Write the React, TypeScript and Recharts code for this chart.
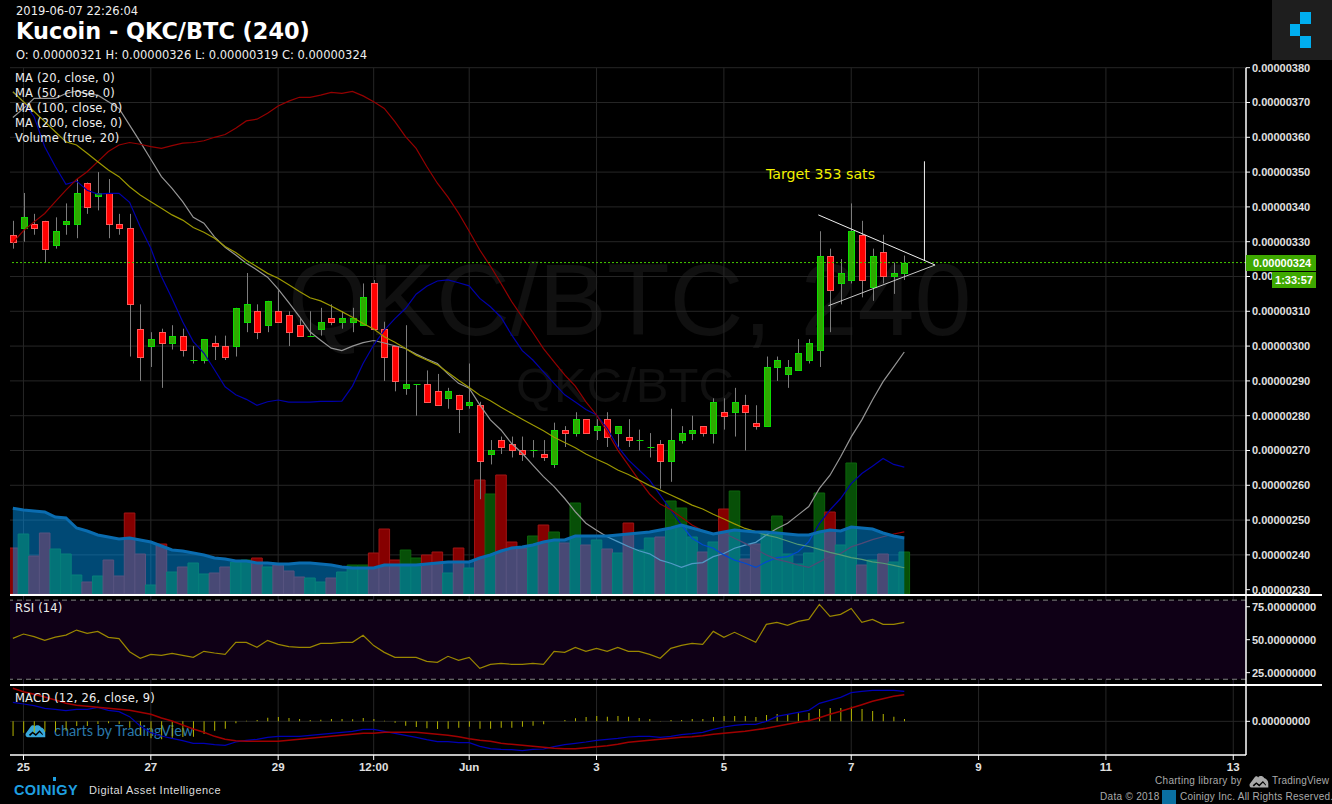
import React from "react";
import {
  ComposedChart,
  Bar,
  Line,
  Area,
  Cell,
  XAxis,
  YAxis,
  CartesianGrid,
  ReferenceLine,
  ReferenceArea,
} from "recharts";

// 4h candles, prices in satoshi
const opens = [332,334,335,336,329,335,335,347,343,344,335,334,305,300,304,301,303,296,296,301,300,300,307,310,306,310,309,306,303,305,308,307,307,306,318,305,300,288,289,289,287,285,286,283,283,269,273,272,270,270,269,266,276,275,279,276,279,275,274,273,271,272,267,273,275,277,275,281,281,283,278,277,294,292,293,296,299,326,318,319,332,317,327,320,321];
const highs = [336,344,338,336,337,341,348,347,350,348,338,338,312,304,305,306,305,300,302,303,303,311,321,312,313,316,310,308,310,311,312,310,311,318,319,307,300,306,289,293,292,288,286,295,284,273,274,274,274,273,273,278,277,281,279,279,281,277,279,276,275,273,282,277,280,277,285,285,288,286,283,297,297,296,302,302,333,328,325,341,336,328,332,324,326];
const lows = [328,330,332,324,328,332,331,338,339,331,332,297,290,294,288,299,297,295,295,296,296,297,304,302,304,307,300,303,303,303,306,305,304,306,305,290,287,286,280,284,283,282,275,282,256,266,269,268,267,268,267,265,271,274,275,273,271,271,271,270,268,259,261,272,273,274,272,276,274,270,276,277,290,288,293,295,294,304,312,318,314,313,318,315,319];
const closes = [330,337,334,328,333,336,344,340,344,335,334,312,297,302,301,303,299,296,302,300,297,311,312,304,313,307,304,303,303,307,307,308,308,314,305,297,290,289,289,284,283,287,282,284,267,270,271,270,269,270,268,276,275,279,275,277,274,277,273,273,271,267,273,275,276,275,284,280,284,281,277,294,296,294,298,301,326,316,321,333,319,326,320,321,324];

const ma20 = [365.7,368.3,371.2,371.2,371.2,372.6,373.3,372.5,372.1,370.2,368.3,363.5,358.7,353.7,348.7,345.3,341.5,337,335.3,331.4,328.4,326.2,323.8,321.9,319.8,316.4,312.5,308.5,304.1,301.7,299.4,298.7,300,301,301.6,300.9,300.1,299.3,297.7,296.3,295,292,289.3,287.9,283.1,278.8,275.9,272,269.2,265.8,262.5,259.6,256.2,252.4,249.1,247.1,245.2,243.8,242.4,241.2,240.3,238.5,237.6,236.4,237.5,237.8,239.5,240.4,241.9,242.8,243.6,245.7,247.6,249.1,251.5,253.9,259.1,262.9,268.2,273.9,278.8,284.5,289.8,294,298.3];
const ma50 = [373.1,370.2,365.9,357.3,351.6,346.5,347.4,344.8,343.7,343.9,343.9,341.3,334.3,328.1,320,313.7,307,301.3,298,293.2,288.3,286,284.7,283,284,284.5,283.9,283.9,283.9,284.1,284.1,284.2,288.5,295,300.3,304.6,307.9,310.8,314.9,317.2,318.7,319,318.2,317.3,313.7,311.3,308.3,303.2,298.7,296,292.6,289.3,286,283.9,281.8,280.2,276.4,271.1,267.3,264.4,261.5,257.2,252.9,248.6,244.8,242.9,241.9,240,238.5,237.6,236.4,238,239.2,239.5,240.9,243.8,249,252.9,256.2,260.5,263.4,265.5,267.7,266,265.2];
const ma100 = [329.7,333.2,335.7,338.1,341.5,344.8,347.9,350.1,353,355.9,357.8,358.5,358,357.3,356.8,357.6,358.3,358.5,359,360,360.8,362.6,364.7,365.2,366.9,369,370.4,371.5,371.5,372.1,372.9,372.6,373.2,371.9,370.2,368.3,364.5,360.2,356.8,351.6,346.8,342.8,338.2,333,327.6,323,318,312.8,308.3,303.9,299.3,295.5,291.7,288.5,284,280.2,275.4,270.1,265.8,261.5,257.5,254.6,253,250.8,248.6,247,245.9,246.2,244.8,243.3,241.6,240,238.7,238,237.1,236.4,238,239.5,240.4,242.3,243.3,244.4,245.2,246,246.6];
const ma200 = [373.1,370.2,367.4,364.5,361.6,358.7,357.8,355.4,353,350.6,348.7,345.8,343.4,341.5,339.6,337.7,336.2,334.1,332.7,331,328.6,326.9,324.7,322.8,320.9,319.5,317.6,315.7,313.9,313,311.5,309.9,308.3,306.5,304.9,302.7,301.1,299.3,297.4,296,294.6,292.4,290.2,288.1,285.9,284.3,282.4,280.7,279,277.3,275.7,273.8,272.3,270.8,269,267.5,266.1,264.4,263.1,261.5,259.9,258.6,257.2,255.8,254.3,253.2,251.7,250.3,248.9,247.6,246.7,245.7,245,244,243,242.4,241.6,240.7,240,239.2,238.7,238,237.6,237,236.3];

const volume = [46,60,38,61,45,40,19,12,18,34,18,81,40,9,50,22,27,31,20,21,27,32,34,36,27,29,23,17,16,12,16,22,29,29,41,65,34,44,36,39,42,21,46,26,114,100,119,52,46,58,69,62,51,91,49,54,45,41,71,44,56,57,93,86,57,42,52,85,103,35,50,62,78,40,30,41,101,82,49,131,29,34,40,32,42];
const volumeMa = [85.7,84,83,82,77,76,66,63,59,57,55,56,54,52,48,44,43,41,39,36,35,33,33,31,31,30,30,31,31,30,29,27,26,26,26,29,29,29,29,30,31,32,32,32,36,39,43,46,47,49,52,54,54,58,58,58,58,59,60,61,62,64,66,69,66,63,60,62,64,63,62,62,61,60,59,59,62,64,63,67,66,65,61,58,56];

const rsi = [51,54.3,52.3,49.5,52,53.5,57.3,54.8,56.3,51.8,50.8,40.9,35.9,38.9,38.1,39.6,38.1,36.6,41.2,39.9,38.9,48,48,44.2,49.5,46.5,44.7,44.2,44.2,47.2,47.2,48,48,53.3,45.5,40.4,36.6,36.6,36.6,33.6,32.8,37.4,34.3,36.6,28.3,31.3,32.1,31.3,31.3,32.1,31.3,41.2,40.4,44.2,41.2,43.4,41.2,44.2,41.2,41.2,38.9,35.9,43.4,45.7,47.2,46.5,56.3,51.8,55.6,51.8,48,61.6,63.1,60.9,63.9,65.4,76.8,67.7,69.2,73.7,63.1,65.4,61.6,61.6,63.1];

const macd = [57,52,47,39,36,32,36,36,42,33,29,14,-14,-34,-44,-51,-58,-66,-66,-70,-72,-62,-57,-54,-48,-45,-45,-45,-42,-39,-36,-33,-30,-24,-24,-30,-36,-42,-48,-55,-61,-61,-64,-64,-75,-82,-84,-85,-88,-84,-83,-76,-70,-66,-62,-57,-54,-51,-47,-45,-45,-48,-45,-40,-37,-33,-24,-17,-12,-9,-9,0,15,21,27,33,54,63,72,86,90,93,93,93,90];
const signal = [99,89,81,73,64,54,48,45,42,39,36,33,27,21,10,1,-11,-23,-33,-45,-54,-58,-60,-60,-60,-60,-57,-54,-51,-48,-45,-42,-39,-36,-36,-33,-33,-33,-33,-36,-39,-42,-46,-52,-57,-60,-66,-69,-72,-75,-78,-81,-82,-82,-79,-76,-73,-69,-63,-60,-57,-54,-51,-48,-46,-43,-39,-36,-33,-30,-25,-21,-15,-9,-3,2,11,21,30,40,50,60,68,75,80];
const hist = [-44,-34,-34,-31,-31,-28,-14,-14,-8,-6,-8,-19,-41,-51,-54,-52,-47,-46,-38,-28,-22,-6,2,4,11,13,10,7,4,5,7,7,6,10,7,2,-4,-13,-17,-21,-23,-22,-19,-16,-22,-22,-19,-19,-16,-13,-9,0,4,9,13,16,14,16,14,10,7,1,4,4,7,7,13,16,16,16,13,19,22,22,24,25,37,40,40,44,37,31,22,14,7];

const dateTicks = [1,13,25,34,43,55,67,79,91,103,115];
const dateLabels = ["25","27","29","12:00","Jun","3","5","7","9","11","13"];
const priceTicks = [230,240,250,260,270,280,290,300,310,320,330,340,350,360,370,380];
const rsiTicks = [25,50,75];
const macdTicks = [0];
const legendLabels = ["MA (20, close, 0)","MA (50, close, 0)","MA (100, close, 0)","MA (200, close, 0)","Volume (true, 20)"];

const rows = opens.map((o, i) => ({
  i,
  open: o,
  high: highs[i],
  low: lows[i],
  close: closes[i],
  ma20: ma20[i],
  ma50: ma50[i],
  ma100: ma100[i],
  ma200: ma200[i],
  volume: volume[i],
  volumeMa: volumeMa[i],
  rsi: rsi[i],
  macd: macd[i],
  signal: signal[i],
  hist: hist[i],
}));

const X_DOMAIN: [number, number] = [-0.27, 116.2];
const PRICE_DOMAIN: [number, number] = [228.76, 380];
const GRID = "#262626";
const SANS = "'DejaVu Sans', Verdana, sans-serif";
const ARIAL = "'Liberation Sans', Arial, sans-serif";
const tickStyle = { fill: "#e0e0e0", fontSize: 11, fontFamily: ARIAL, fontWeight: 700 };

const fmtPrice = (v: number) => (v / 1e8).toFixed(8);
const fmtOsc = (v: number) => v.toFixed(8);

function Candle(props: any) {
  const { x, y, width, height, payload } = props;
  const { open, close, high, low } = payload;
  const up = close >= open;
  const at = (p: number) => y + ((high - p) / (high - low)) * height;
  const cx = Math.round(x + width / 2) + 0.5;
  const top = Math.round(at(Math.max(open, close))) + 0.5;
  const bottom = Math.round(at(Math.min(open, close))) + 0.5;
  const edge = up ? "#0cdc00" : "#ff5a5a";
  return (
    <g>
      <line x1={cx} x2={cx} y1={y} y2={y + height} stroke="#7c7c7c" />
      {open === close ? (
        <line x1={cx - 3} x2={cx + 4} y1={top} y2={top} stroke={edge} />
      ) : (
        <rect x={cx - 3} y={top} width={6} height={bottom - top} fill={up ? "#2ea800" : "#ff0000"} stroke={edge} />
      )}
    </g>
  );
}

function Text({ x, y, size = 11, color = "#eee", weight = 400, font = SANS, spacing = 0, children }: any) {
  return (
    <div
      style={{
        position: "absolute",
        left: x,
        top: y,
        fontSize: size,
        lineHeight: 1,
        color,
        fontWeight: weight,
        fontFamily: font,
        letterSpacing: spacing,
        whiteSpace: "nowrap",
      }}
    >
      {children}
    </div>
  );
}

const Rule = ({ top, right }: { top: number; right: number }) => (
  <div style={{ position: "absolute", left: 10, top, width: right - 10, height: 1.5, background: "#fff" }} />
);

const Cloud = ({ x, y, w, color }: any) => (
  <svg style={{ position: "absolute", left: x, top: y }} width={w} height={w * 0.66} viewBox="0 0 33 22">
    <path
      fill={color}
      d="M1 15 L9 4 C11 1 14 2 15 4 C17 1 23 1 25 5 C29 6 32 10 32 14 L32 21 L4 21 C1 21 0 17 1 15 Z M6 17 L12 12 L17 16 L23 10 L28 16 L28 18 L23 13 L17 19 L12 15 L8 19 Z"
      fillRule="evenodd"
    />
  </svg>
);

const layer = { position: "absolute", left: 10, top: 60 } as const;

export default function App() {
  return (
    <div style={{ position: "fixed", left: 0, top: 0, width: 1332, height: 804, background: "#000", overflow: "hidden" }}>
      {/* faint symbol watermark behind the price pane */}
      <Text x={288} y={249} size={102.5} color="#101010" font={ARIAL}>QKC/BTC, 240</Text>
      <Text x={516} y={361} size={49} color="#101010" font={ARIAL}>QKC/BTC</Text>

      {/* grid and volume bars */}
      <div style={layer}>
        <ComposedChart width={1322} height={534} data={rows} margin={{ top: 7.7, right: 86, bottom: 0, left: 0 }}>
          <XAxis dataKey="i" type="number" domain={X_DOMAIN} allowDataOverflow hide />
          <YAxis yAxisId="v" domain={[0, 526.3]} hide />
          <YAxis yAxisId="g" domain={PRICE_DOMAIN} ticks={priceTicks} allowDataOverflow hide />
          <CartesianGrid stroke={GRID} yAxisId="g" horizontalValues={priceTicks} verticalValues={dateTicks} />
          <Bar yAxisId="v" dataKey="volume" barSize={10.6} isAnimationActive={false}>
            {rows.map((d) => (
              <Cell
                key={d.i}
                fill={d.close >= d.open ? "#074f07" : "#860000"}
                stroke={d.close >= d.open ? "#0c640c" : "#a01414"}
              />
            ))}
          </Bar>
          {/* keeps axis g populated so the grid gets its rows */}
          <Line yAxisId="g" dataKey="close" stroke="none" dot={false} isAnimationActive={false} />
        </ComposedChart>
      </div>

      {/* price pane: candles, moving averages, drawings */}
      <div style={layer}>
        <ComposedChart width={1322} height={534} data={rows} margin={{ top: 7.7, right: 0, bottom: 0, left: 0 }}>
          <XAxis dataKey="i" type="number" domain={X_DOMAIN} allowDataOverflow hide />
          <YAxis
            orientation="right"
            width={86}
            domain={PRICE_DOMAIN}
            allowDataOverflow
            ticks={priceTicks}
            interval={0}
            tickFormatter={fmtPrice}
            tick={tickStyle}
            tickSize={4}
            tickMargin={2}
            axisLine={{ stroke: "#fff", strokeWidth: 1.5 }}
            tickLine={{ stroke: "#fff" }}
          />

          <Bar dataKey={(d: any) => [d.low, d.high]} barSize={7} shape={Candle} isAnimationActive={false} />

          <Line dataKey="ma20" type="linear" stroke="#959595" strokeWidth={1.2} dot={false} isAnimationActive={false} />
          <Line dataKey="ma50" type="linear" stroke="#0000aa" strokeWidth={1.2} dot={false} isAnimationActive={false} />
          <Line dataKey="ma100" type="linear" stroke="#940000" strokeWidth={1.2} dot={false} isAnimationActive={false} />
          <Line dataKey="ma200" type="linear" stroke="#9c9800" strokeWidth={1.2} dot={false} isAnimationActive={false} />

          <ReferenceLine y={324} stroke="#45c800" strokeDasharray="2 2" />
          {/* drawn triangle and target */}
          <ReferenceLine stroke="#f0f0f0" segment={[{ x: 75.9, y: 337.7 }, { x: 86.9, y: 323.3 }]} />
          <ReferenceLine stroke="#c8c8c8" segment={[{ x: 76.85, y: 311.6 }, { x: 86.9, y: 323.3 }]} />
          <ReferenceLine stroke="#f0f0f0" segment={[{ x: 85.9, y: 353.1 }, { x: 85.9, y: 324.5 }]} />
        </ComposedChart>
      </div>

      {/* volume MA area goes on top, it tints the bars and the MA lines below it */}
      <div style={layer}>
        <ComposedChart width={1322} height={534} data={rows} margin={{ top: 7.7, right: 86, bottom: 0, left: 0 }}>
          <XAxis dataKey="i" type="number" domain={X_DOMAIN} allowDataOverflow hide />
          <YAxis domain={[0, 526.3]} hide />
          <Area
            dataKey="volumeMa"
            type="linear"
            fill="#00a0ff"
            fillOpacity={0.46}
            stroke="#0a6cb0"
            strokeWidth={3}
            dot={false}
            isAnimationActive={false}
          />
        </ComposedChart>
      </div>

      {/* RSI pane */}
      <div style={{ position: "absolute", left: 10, top: 595 }}>
        <ComposedChart width={1322} height={89} data={rows} margin={{ top: 0, right: 0, bottom: 0, left: 0 }}>
          <XAxis dataKey="i" type="number" domain={X_DOMAIN} allowDataOverflow hide />
          <YAxis
            orientation="right"
            width={86}
            domain={[16.4, 83.9]}
            ticks={rsiTicks}
            interval={0}
            tickFormatter={fmtOsc}
            tick={tickStyle}
            tickSize={4}
            tickMargin={2}
            axisLine={{ stroke: "#fff", strokeWidth: 1.5 }}
            tickLine={{ stroke: "#fff" }}
          />
          <ReferenceArea y1={20} y2={80} fill="#0f0016" fillOpacity={1} stroke="none" />
          <CartesianGrid stroke="#272030" horizontalValues={rsiTicks} verticalValues={dateTicks} />
          <ReferenceLine y={80} stroke="#808080" strokeDasharray="5 4" />
          <ReferenceLine y={20} stroke="#808080" strokeDasharray="5 4" />
          <Line dataKey="rsi" type="linear" stroke="#9a8600" strokeWidth={1.2} dot={false} isAnimationActive={false} />
        </ComposedChart>
      </div>

      {/* TradingView mark sits under the MACD pane */}
      <Cloud x={25} y={724} w={21} color="#38a8dc" />
      <Text x={54} y={724} size={14.5} color="#2a78aa" font="Lato, 'Open Sans', sans-serif">charts by TradingView</Text>

      {/* MACD pane */}
      <div style={{ position: "absolute", left: 10, top: 685 }}>
        <ComposedChart width={1322} height={92} data={rows} margin={{ top: 0, right: 0, bottom: 0, left: 0 }}>
          <XAxis
            dataKey="i"
            type="number"
            domain={X_DOMAIN}
            allowDataOverflow
            ticks={dateTicks}
            interval={0}
            height={22}
            tickFormatter={(v: number) => dateLabels[dateTicks.indexOf(v)]}
            tick={{ ...tickStyle, fontSize: 11.5 }}
            tickSize={5}
            tickMargin={3}
            axisLine={{ stroke: "#fff", strokeWidth: 1.5 }}
            tickLine={{ stroke: "#fff" }}
          />
          <YAxis
            orientation="right"
            width={86}
            domain={[-101, 109]}
            ticks={macdTicks}
            interval={0}
            tickFormatter={fmtOsc}
            tick={tickStyle}
            tickSize={4}
            tickMargin={2}
            axisLine={{ stroke: "#fff", strokeWidth: 1.5 }}
            tickLine={{ stroke: "#fff" }}
          />
          <CartesianGrid stroke={GRID} horizontalValues={macdTicks} verticalValues={dateTicks} />
          <Bar dataKey="hist" barSize={1} fill="#b4b400" isAnimationActive={false} />
          <Line dataKey="macd" type="linear" stroke="#0000b4" strokeWidth={1.2} dot={false} isAnimationActive={false} />
          <Line dataKey="signal" type="linear" stroke="#a00000" strokeWidth={1.5} dot={false} isAnimationActive={false} />
        </ComposedChart>
      </div>

      <Rule top={594} right={1322} />
      <Rule top={684} right={1322} />

      {/* header and legend */}
      <Text x={16} y={5.5} size={11.5}>2019-06-07 22:26:04</Text>
      <Text x={16} y={20} size={22.4} weight={700} color="#fff">Kucoin - QKC/BTC (240)</Text>
      <Text x={16} y={50} size={11.5}>O: 0.00000321 H: 0.00000326 L: 0.00000319 C: 0.00000324</Text>
      {legendLabels.map((t, i) => (
        <Text key={t} x={15} y={72.5 + i * 15} size={11.5} spacing={0.2}>{t}</Text>
      ))}
      <Text x={15} y={603} size={11.5} spacing={0.2}>RSI (14)</Text>
      <Text x={15} y={693} size={11.5} spacing={0.2}>MACD (12, 26, close, 9)</Text>
      <Text x={766} y={167} size={14.2} color="#f2f200">Target 353 sats</Text>

      {/* last price and countdown tags */}
      <div style={{ position: "absolute", left: 1246, top: 255, width: 70, height: 16, background: "#3ea800", color: "#fff", font: `700 11px ${ARIAL}`, lineHeight: "16px", paddingLeft: 7, boxSizing: "border-box" }}>0.00000324</div>
      <div style={{ position: "absolute", left: 1272, top: 272, width: 44, height: 16, background: "#3ea800", color: "#fff", font: `700 11px ${ARIAL}`, lineHeight: "16px", textAlign: "center" }}>1:33:57</div>

      {/* corner logo */}
      <div style={{ position: "absolute", left: 1272, top: 0, width: 60, height: 60, background: "#1e1e1e" }}>
        <div style={{ position: "absolute", left: 28, top: 12, width: 11, height: 12, background: "#00aeef" }} />
        <div style={{ position: "absolute", left: 18, top: 24, width: 10, height: 12, background: "#00aeef" }} />
        <div style={{ position: "absolute", left: 28, top: 36, width: 11, height: 12, background: "#00aeef" }} />
      </div>

      {/* footer */}
      <div style={{ position: "absolute", left: 53, top: 777, width: 3, height: 4, background: "#1f9fe0" }} />
      <Text x={14} y={783} size={14.5} weight={700} color="#1f9fe0" font={ARIAL} spacing={0.4}>COINIGY</Text>
      <Text x={89} y={785} size={11} color="#ddd" font={ARIAL} spacing={0.5}>Digital Asset Intelligence</Text>
      <Text x={1155} y={776} size={10} color="#aaa" font={ARIAL} spacing={0.3}>Charting library by</Text>
      <Cloud x={1249} y={775} w={20} color="#aaa" />
      <Text x={1272} y={776} size={10} color="#aaa" font={ARIAL} spacing={0.2}>TradingView</Text>
      <Text x={1100} y={792} size={10} color="#aaa" font={ARIAL} spacing={0.3}>Data © 2018</Text>
      <div style={{ position: "absolute", left: 1162, top: 790, width: 14, height: 14, background: "#0a6fa0" }} />
      <Text x={1180} y={792} size={10} color="#aaa" font={ARIAL} spacing={0.25}>Coinigy Inc. All Rights Reserved.</Text>
    </div>
  );
}
